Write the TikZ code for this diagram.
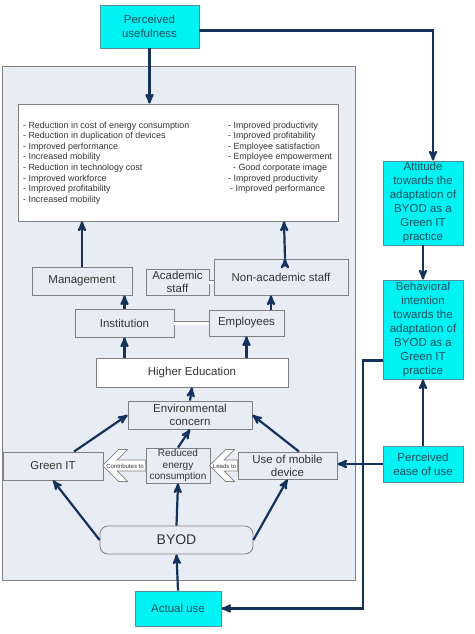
\documentclass[tikz,border=0pt]{standalone}
\usepackage{fontspec}
\setmainfont{Liberation Sans}
\usepackage{xcolor}
\usepackage{tikz}
\usetikzlibrary{arrows}

\definecolor{linkblue}{HTML}{14325A}
\definecolor{tamfill}{HTML}{00F2F2}
\definecolor{tamline}{HTML}{4F8FA0}
\definecolor{tamtext}{HTML}{1C4F5E}
\definecolor{panelfill}{HTML}{E8ECF5}
\definecolor{boxline}{HTML}{808080}
\definecolor{boxtext}{HTML}{333333}

\begin{document}
\begin{tikzpicture}[->,>=stealth',x=1pt,y=-1pt,line width=2.2pt]
  \tikzstyle{tam}=[rectangle,draw=tamline,line width=0.8pt,fill=tamfill,text=tamtext,inner sep=0pt,align=center,font=\fontsize{11.5}{14}\selectfont]
  \tikzstyle{part}=[rectangle,draw=boxline,line width=0.8pt,fill=panelfill,text=boxtext,inner sep=0pt,align=center,font=\fontsize{11.5}{13}\selectfont]
  \tikzstyle{link}=[draw=linkblue]
  \tikzstyle{same}=[-,draw=boxline,line width=0.8pt,double=white,double distance=3pt]
  \tikzstyle{chevron}=[-,draw=boxline,line width=0.6pt,fill=white]
  \tikzstyle{chevtext}=[text=boxtext,inner sep=0pt,font=\fontsize{6}{6}\selectfont]
  \tikzstyle{benefits}=[anchor=north west,inner sep=0pt,align=left,text=boxtext,font=\fontsize{8.9}{10.6}\selectfont]

  \useasboundingbox (0,0) rectangle (474,634);
  \draw[-,draw=boxline,fill=panelfill,line width=0.8pt] (2,66) rectangle (355,580);

  % model boxes
  \node[tam,minimum width=99pt,minimum height=43pt] (pu)    at (149.5,26.5) {Perceived\\usefulness};
  \node[tam,minimum width=80pt,minimum height=84pt] (att)   at (423,203)    {Attitude\\towards the\\adaptation of\\BYOD as a\\Green IT\\practice};
  \node[tam,minimum width=80pt,minimum height=99pt] (beh)   at (423,329.5)  {Behavioral\\intention\\towards the\\adaptation of\\BYOD as a\\Green IT\\practice};
  \node[tam,minimum width=80pt,minimum height=36pt] (peou)  at (423,464)    {Perceived\\ease of use};
  \node[tam,minimum width=86pt,minimum height=35pt] (act)   at (178,608.5)  {Actual use};

  % inside the panel
  \node[part,fill=white,minimum width=320pt,minimum height=117pt] (bits) at (178,162.5) {};
  \node[benefits] (bitsl) at (22,120.5) {- Reduction in cost of energy consumption\\- Reduction in duplication of devices\\- Improved performance\\- Increased mobility\\- Reduction in technology cost\\- Improved workforce\\- Improved profitability\\- Increased mobility};
  \node[benefits] (bitsr) at (227,120.5) {- Improved productivity\\- Improved profitability\\- Employee satisfaction\\- Employee empowerment\\\hspace{5pt}- Good corporate image\\- Improved productivity\\\hspace{2pt}- Improved performance};

  \node[part,minimum width=100pt,minimum height=28pt] (mgmt)  at (82,281)     {Management};
  \node[part,minimum width=63pt,minimum height=26pt]  (acad)  at (177.5,282)  {Academic\\staff};
  \node[part,minimum width=134pt,minimum height=36pt] (nonac) at (281,277)    {Non-academic staff};
  \node[part,minimum width=99pt,minimum height=28pt]  (inst)  at (124.5,323)  {Institution};
  \node[part,minimum width=75pt,minimum height=26pt]  (empl)  at (246.5,323)  {Employees};
  \node[part,fill=white,minimum width=192pt,minimum height=29pt] (he) at (192,372.5) {Higher Education};
  \node[part,minimum width=124pt,minimum height=28pt] (env)   at (190,415)    {Environmental\\concern};
  \node[part,minimum width=100pt,minimum height=28pt] (green) at (53,466)     {Green IT};
  \node[part,minimum width=64pt,minimum height=35pt,font=\fontsize{10}{11.5}\selectfont] (red) at (178,465.5) {Reduced\\energy\\consumption};
  \node[part,minimum width=99pt,minimum height=27pt]  (mob)   at (287.5,465.5) {Use of mobile\\device};
  \node[part,rounded corners=8pt,minimum width=153pt,minimum height=28pt,font=\fontsize{14}{16}\selectfont] (byod) at (176.5,540) {BYOD};

  % hollow block arrows
  \draw[chevron] (red.west) ++(0,-5.5) -- ++(-28.5,0) -- ++(10.5,-10.5) -- ++(-9,0) -- ++(-16,16)
        -- ++(16,16) -- ++(9,0) -- ++(-10.5,-10.5) -- ++(28.5,0) -- cycle;
  \draw[chevron] (mob.west) ++(0,-5.5) -- ++(-13.5,0) -- ++(10.5,-10.5) -- ++(-9,0) -- ++(-16,16)
        -- ++(16,16) -- ++(9,0) -- ++(-10.5,-10.5) -- ++(13.5,0) -- cycle;
  \node[chevtext] (contrib) at (125,466) {Contributes to};
  \node[chevtext] (leads)   at (224.5,466) {Leads to};

  % connectors
  \path[link] (pu.south) edge (pu.south |- bits.north)
        (att.south) edge (beh.north)
        (peou.north) edge (beh.south)
        (peou.west) edge (peou.west -| mob.east)
        (act.north) edge (byod.south)
        (byod.west) edge (green.south)
        (byod.east) edge (mob.south)
        (byod.north) edge (red.south)
        (red.north) edge (env.south)
        ([xshift=21pt]green.north) edge (env.west)
        ([xshift=11.5pt]mob.north) edge (env.east)
        (env.north) edge (he.south)
        (inst.south |- he.north) edge (inst.south)
        (empl.south |- he.north) edge (empl.south)
        (inst.north) edge (inst.north |- mgmt.south)
        ([xshift=24.5pt]empl.north) edge ([xshift=24.5pt]empl.north |- nonac.south)
        (mgmt.north) edge (mgmt.north |- bits.south)
        ([xshift=4pt]nonac.north) edge ([xshift=3pt]nonac.north |- bits.south);
  \draw[link] ([yshift=19pt]beh.south west) -- ++(-20,0) |- (act.east);
  \draw[link] ([yshift=-4pt]pu.east) -| ([xshift=10pt]att.north);

  \draw[same] (inst.east) -- (empl.west);
  \draw[same] (acad.east) -- (acad.east -| nonac.west);
\end{tikzpicture}
\end{document}
